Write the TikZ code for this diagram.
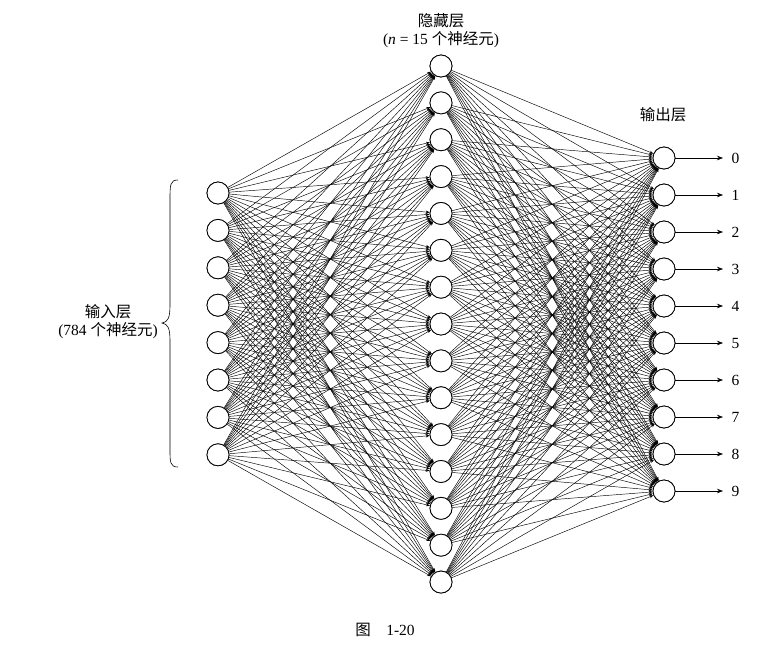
\documentclass[tikz,border=0pt]{standalone}
\usepackage{fontspec}
\setmainfont{Liberation Serif}
\newfontfamily\cjk{Noto Sans CJK SC}
\usetikzlibrary{arrows.meta}
\begin{document}
\begin{tikzpicture}[x=1pt,y=-1pt,
  neuron/.style={circle,draw,thick,minimum size=22pt,inner sep=0pt,fill=white},
  conn/.style={draw,line width=0.45pt,-{Stealth[length=4pt,width=3pt]}},
  lbl/.style={font=\fontsize{15.5}{18}\selectfont,align=center}]
\useasboundingbox (0,0) rectangle (771,651);
\foreach \i in {1,...,8} \node[neuron] (in\i) at (218,{193+(\i-1)*37.4}) {};
\foreach \j in {1,...,15} \node[neuron] (h\j) at (441,{66+(\j-1)*36.86}) {};
\foreach \k in {1,...,10} \node[neuron] (o\k) at (664,{158+(\k-1)*37}) {};
\foreach \i in {1,...,8} \foreach \j in {1,...,15} \draw[conn] (in\i) -- (h\j);
\foreach \j in {1,...,15} \foreach \k in {1,...,10} \draw[conn] (h\j) -- (o\k);
\foreach \i in {1,...,8} \node[neuron] at (in\i) {};
\foreach \j in {1,...,15} \node[neuron] at (h\j) {};
\foreach \k in {1,...,10} \node[neuron] at (o\k) {};
\foreach \k [evaluate=\k as \d using int(\k-1)] in {1,...,10} {
  \coordinate (e\k) at (723,{158+(\k-1)*37});
  \draw[line width=0.6pt,-{Stealth[length=6pt]}] (o\k) -- (e\k);
  \node[lbl,anchor=west] at (728,{158+(\k-1)*37}) {\d};
}
\draw[line width=0.6pt] (178,180) .. controls (170,180) and (170,185) .. (170,200) -- (170,305)
  .. controls (170,318) and (168,322) .. (162,323) .. controls (168,324) and (170,328) .. (170,341)
  -- (170,450) .. controls (170,462) and (170,467) .. (178,467);
\node[lbl] (inl) at (108,322) {{\cjk 输入层}\\({784 \cjk 个神经元})};
\node[lbl] (hl) at (441,31) {{\cjk 隐藏层}\\(\textit{n} = {15 \cjk 个神经元})};
\node[lbl] (ol) at (663,115) {\cjk 输出层};
\node[lbl] (cap) at (385,630) {{\cjk 图}\quad 1-20};
\end{tikzpicture}
\end{document}
